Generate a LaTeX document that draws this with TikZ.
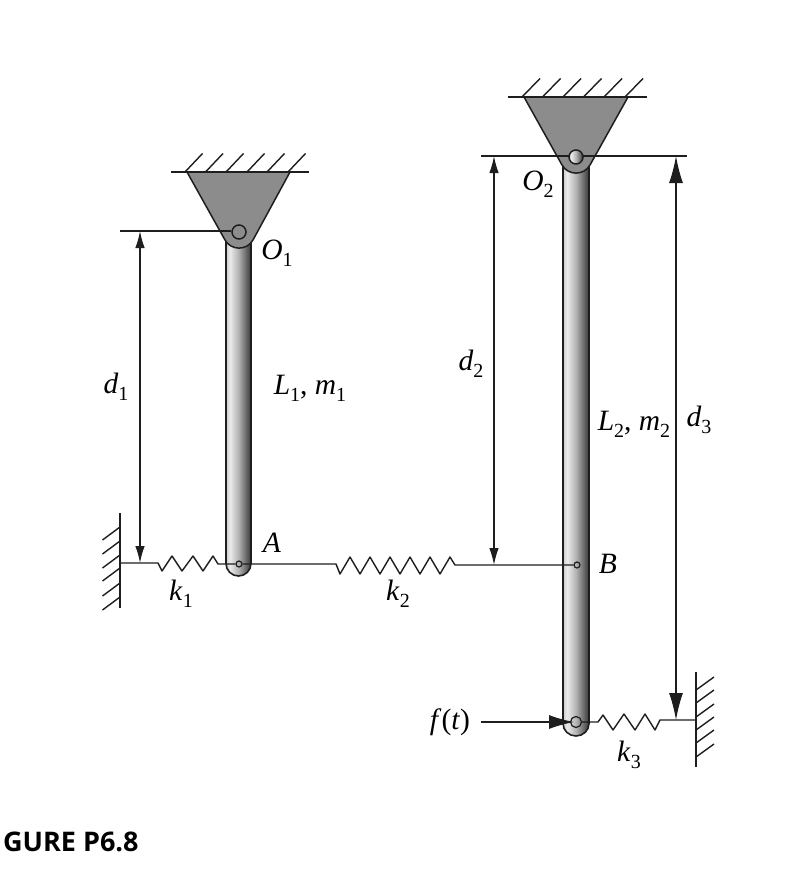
\documentclass[tikz,border=0pt]{standalone}
\usepackage{fontspec}
\setmainfont{Liberation Serif}
\newfontfamily\capfont{Open Sans}
\usetikzlibrary{arrows.meta}
\definecolor{ink}{HTML}{1E1E1E}
\definecolor{gusset}{HTML}{8C8C8C}
\pgfdeclarehorizontalshading{rodshade}{100bp}{color(0bp)=(black!20);color(25bp)=(black!20);color(33bp)=(black!8);color(50bp)=(black!30);color(75bp)=(black!78);color(100bp)=(black!78)}
\newcommand{\lbl}[2]{\textit{#1}\raisebox{-0.24em}{\fontsize{20}{22}\selectfont #2}}
\tikzset{
  line/.style={draw=ink,line width=1.5pt},
  thin line/.style={draw=ink,line width=1.4pt},
  dim/.style={draw=ink,line width=1.3pt,{Latex[length=17pt,width=9.5pt]}-{Latex[length=17pt,width=9.5pt]}},
  bigdim/.style={draw=ink,line width=1.3pt,{Latex[length=27pt,width=14pt]}-{Latex[length=27pt,width=14pt]}},
  force/.style={draw=ink,line width=1.3pt,-{Latex[length=25pt,width=14pt]}},
  rod/.style={draw=ink,line width=1.6pt,shading=rodshade},
  gussetshape/.style={draw=ink,line width=1.5pt,fill=gusset},
  pinbig/.style={circle,draw=ink,line width=1.5pt,inner sep=0pt,minimum size=14pt},
  pinsmall/.style={circle,draw=ink,line width=1.2pt,inner sep=0pt,minimum size=6pt},
  txt/.style={inner sep=0pt,font=\fontsize{29.5}{32}\selectfont},
}
\begin{document}
\begin{tikzpicture}[x=1pt,y=-1pt]
\useasboundingbox (0,0) rectangle (788,880);
% rods
\path[rod] (226,235) -- (226,563.5) .. controls (226,570.4) and (231.6,576) .. (238.5,576) .. controls (245.4,576) and (251,570.4) .. (251,563.5) -- (251,235) -- cycle;
\path[rod] (563,160) -- (563,723.5) .. controls (563,730.4) and (568.8,736) .. (576,736) .. controls (583.2,736) and (589,730.4) .. (589,723.5) -- (589,160) -- cycle;
% gussets
\path[gussetshape] (187,172) -- (225,240) .. controls (231.1,250.8) and (246.9,250.8) .. (253,240) -- (290,172) -- cycle;
\path[gussetshape] (524,97) -- (562,165) .. controls (568.1,175.8) and (583.9,175.8) .. (590,165) -- (628,97) -- cycle;
% ceilings
\coordinate (g1l) at (171,172); \coordinate (g1r) at (309,172);
\coordinate (g2l) at (508,97); \coordinate (g2r) at (647,97);
\draw[line] (g1l) -- (g1r);
\draw[line] (g2l) -- (g2r);
\foreach \x in {185,205.5,226,247,267,288} \draw[thin line] (\x,172) -- ++(17.5,-18.5);
\foreach \x in {522,542.5,563,583.5,604,625} \draw[thin line] (\x,97) -- ++(18,-18.5);
% walls
\coordinate (w1) at (120,563); \coordinate (w3) at (696,720);
\draw[line] (120,513) -- (120,608);
\foreach \y in {527,541,555,568,583,597} \draw[thin line] (120,\y) -- ++(-17.5,13);
\draw[line] (696,672) -- (696,767);
\foreach \y in {690,703,717,730,743,757} \draw[thin line] (696,\y) -- ++(18,-13);
% pins
\coordinate (c1) at (239,232); \coordinate (c2) at (576,157);
\coordinate (d1top) at (120,231); \coordinate (d1end) at (231,231);
\coordinate (topl) at (481,156); \coordinate (topr) at (687,156);
\draw[thin line] (d1top) -- (d1end);
\draw[thin line] (topl) -- (topr);
\node[pinbig,fill=gusset] (O1) at (c1) {};
\node[pinbig,shading=rodshade] (O2) at (c2) {};
% springs
\node[pinsmall] (A) at (239,564) {};
\node[pinsmall] (B) at (577,565) {};
\node[pinbig,minimum size=11pt,line width=1.2pt] (C) at (576,722) {};
\draw[thin line,line join=round] (w1) -- (158,563) -- (162,571) -- (172,556) -- (182,571) -- (193,556) -- (203,571) -- (213,556) -- (218,564) -- (A);
\draw[thin line,line join=round] (A) -- (336,564) -- (340,574) -- (350,557) -- (360,574) -- (370,557) -- (380,574) -- (390,557) -- (400,574) -- (410,557) -- (420,574) -- (430,557) -- (440,574) -- (450,557) -- (455,565) -- (B);
\draw[thin line,line join=round] (C) -- (598,722) -- (603,715) -- (613,730) -- (624,714) -- (635,730) -- (645,714) -- (655,730) -- (660,720) -- (w3);
% dimension arrows
\coordinate (a1t) at (140,231); \coordinate (a1b) at (140,563);
\coordinate (a2t) at (494,156); \coordinate (a2b) at (494,565);
\coordinate (a3t) at (676,156); \coordinate (a3b) at (676,720);
\coordinate (fs) at (481,722); \coordinate (ftip) at (574,722);
\draw[dim] (a1t) -- (a1b);
\draw[dim] (a2t) -- (a2b);
\draw[bigdim] (a3t) -- (a3b);
\draw[force] (fs) -- (ftip);
% labels
\node[txt] (tO1) at (277,253) {\lbl{O}{1}};
\node[txt] (tO2) at (538,184) {\lbl{O}{2}};
\node[txt] (td1) at (116,387) {\lbl{d}{1}};
\node[txt] (td2) at (471,364) {\lbl{d}{2}};
\node[txt] (td3) at (699,420) {\lbl{d}{3}};
\node[txt] (tL1) at (310,388) {\lbl{L}{1}, \lbl{m}{1}};
\node[txt] (tL2) at (634,424) {\lbl{L}{2}, \lbl{m}{2}};
\node[txt] (tA) at (272,543) {\textit{A}};
\node[txt] (tB) at (608,564) {\textit{B}};
\node[txt] (tk1) at (181,594) {\lbl{k}{1}};
\node[txt] (tk2) at (398,594) {\lbl{k}{2}};
\node[txt] (tk3) at (629,755) {\lbl{k}{3}};
\node[txt] (tf) at (450,722) {\textit{f}(\textit{t})};
\node[inner sep=0pt,anchor=west] (cap) at (3,842) {\capfont\bfseries\fontsize{27}{30}\selectfont GURE P6.8};
\end{tikzpicture}
\end{document}
